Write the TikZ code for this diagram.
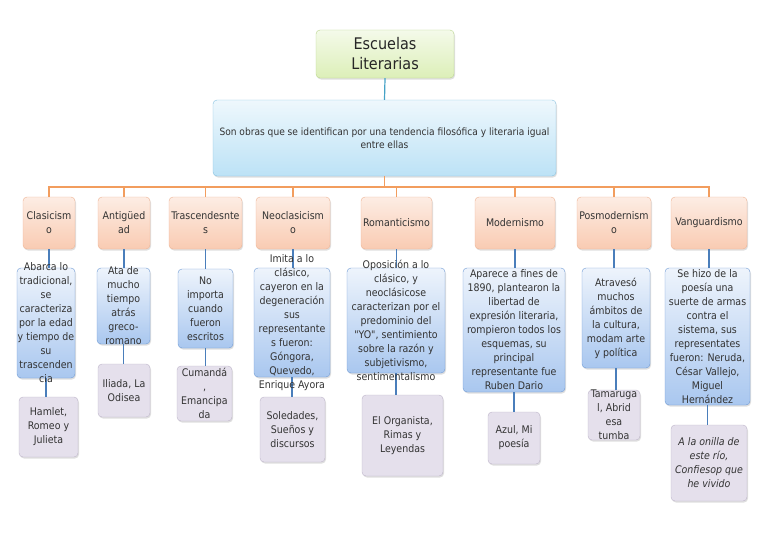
\documentclass[tikz,border=0pt]{standalone}
\usepackage{fontspec}
\newfontfamily\condfont{DejaVu Sans Condensed}
\usetikzlibrary{shadows}

\definecolor{titlecol}{HTML}{DCEFB8}
\definecolor{titleline}{HTML}{B9D58C}
\definecolor{maincol}{HTML}{BCE2F6}
\definecolor{mainline}{HTML}{86C1E0}
\definecolor{catcol}{HTML}{F9CBB2}
\definecolor{catline}{HTML}{EDB394}
\definecolor{desccol}{HTML}{A9C7EF}
\definecolor{descline}{HTML}{6F9AD4}
\definecolor{excol}{HTML}{E5E0EC}
\definecolor{exline}{HTML}{BDB4C9}
\definecolor{busline}{HTML}{F29D5E}
\definecolor{linkline}{HTML}{4A7EBB}
\definecolor{tealline}{HTML}{45A2C6}
\definecolor{txtcol}{HTML}{333333}

\tikzset{
  box/.style={draw, rounded corners=4pt, inner sep=0pt,
    drop shadow={opacity=0.25, shadow xshift=1pt, shadow yshift=-1.5pt}},
  titlebox/.style={box, draw=titleline, top color=titlecol!30, bottom color=titlecol},
  mainbox/.style={box, draw=mainline, top color=maincol!25, bottom color=maincol},
  catbox/.style={box, draw=catline, top color=catcol!35, bottom color=catcol},
  descbox/.style={box, draw=descline, top color=desccol!20, bottom color=desccol},
  exbox/.style={box, draw=exline, fill=excol},
  txt/.style={align=center, text=txtcol, inner sep=0pt,
    font=\condfont\fontsize{10.5}{14}\selectfont},
  bus/.style={busline, line width=1.6pt},
  link/.style={linkline, line width=1.1pt},
}

\begin{document}
\begin{tikzpicture}[x=1pt, y=-1pt]
  \useasboundingbox (0,0) rectangle (768,543);

  % Titulo
  \node[titlebox, minimum width=138pt, minimum height=48pt, align=center,
    font=\condfont\fontsize{16}{20}\selectfont, text=black!85] (title) at (385,54) {Escuelas\\Literarias};
  \node[mainbox, minimum width=343pt, minimum height=76pt] (main) at (384.5,138) {};
  \node[txt, font=\condfont\fontsize{10.1}{13}\selectfont] (maint) at (main)
    {Son obras que se identifican por una tendencia filosófica y literaria igual\\entre ellas};
  \draw[tealline, line width=1.2pt] (title.south) -- (main.north);

  % Escuelas
  \node[catbox, minimum width=52pt, minimum height=52pt, txt] (c1) at (49,223) {Clasicism\\o};
  \node[catbox, minimum width=52pt, minimum height=52pt, txt] (c2) at (124,223) {Antigüed\\ad};
  \node[catbox, minimum width=73pt, minimum height=52pt, txt] (c3) at (205.5,223) {Trascendesnte\\s};
  \node[catbox, minimum width=74pt, minimum height=52pt, txt] (c4) at (293,223) {Neoclasicism\\o};
  \node[catbox, minimum width=71pt, minimum height=52pt, txt] (c5) at (396.5,223) {Romanticismo};
  \node[catbox, minimum width=80pt, minimum height=52pt, txt] (c6) at (515,223) {Modernismo};
  \node[catbox, minimum width=74pt, minimum height=52pt, txt] (c7) at (614,223) {Posmodernism\\o};
  \node[catbox, minimum width=76pt, minimum height=52pt, txt] (c8) at (709,223) {Vanguardismo};

  % Descripciones
  \node[descbox, minimum width=58pt, minimum height=110pt] (d1) at (46,323) {};
  \node[descbox, minimum width=53pt, minimum height=76pt] (d2) at (123.5,306) {};
  \node[descbox, minimum width=55pt, minimum height=79pt] (d3) at (205.5,308.5) {};
  \node[descbox, minimum width=76pt, minimum height=109pt] (d4) at (292,322.5) {};
  \node[descbox, minimum width=98pt, minimum height=105pt] (d5) at (396,320.5) {};
  \node[descbox, minimum width=102pt, minimum height=124pt] (d6) at (514,330) {};
  \node[descbox, minimum width=68pt, minimum height=100pt] (d7) at (616,318) {};
  \node[descbox, minimum width=85pt, minimum height=137pt] (d8) at (707.5,336.5) {};

  % Obras
  \node[exbox, minimum width=59pt, minimum height=60pt, txt] (e1) at (48.5,427) {Hamlet,\\Romeo y\\Julieta};
  \node[exbox, minimum width=52pt, minimum height=53pt, txt] (e2) at (124,390.5) {Iliada, La\\Odisea};
  \node[exbox, minimum width=55pt, minimum height=55pt] (e3) at (204.5,393.5) {};
  \node[exbox, minimum width=65pt, minimum height=65pt, txt] (e4) at (292.5,429.5) {Soledades,\\Sueños y\\discursos};
  \node[exbox, minimum width=81pt, minimum height=81pt, txt] (e5) at (402.5,435.5) {El Organista,\\Rimas y\\Leyendas};
  \node[exbox, minimum width=52pt, minimum height=52pt, txt] (e6) at (514,438) {Azul, Mi\\poesía};
  \node[exbox, minimum width=52pt, minimum height=50pt] (e7) at (614,415) {};
  \node[exbox, minimum width=76pt, minimum height=76pt, txt, font=\condfont\fontsize{10.5}{14}\selectfont\itshape] (e8) at (709,463)
    {A la onilla de\\este río,\\Confiesop que\\he vivido};

  % Conectores
  \foreach \c in {c1,c2,c3,c4,c5,c6,c7,c8}
    \draw[bus] (main.south) -- ++(0,11) -| (\c.north);
  \foreach \i in {1,...,8} {
    \draw[link] (c\i.south) -- (c\i.south |- d\i.north);
    \draw[link] (d\i.south) -- (d\i.south |- e\i.north);
  }

  % Textos (sobre las cajas)
  \node[txt] (d1t) at (d1) {Abarca lo\\tradicional,\\se\\caracteriza\\por la edad\\y tiempo de\\su\\trascenden\\cia};
  \node[txt] (d2t) at (d2) {Ata de\\mucho\\tiempo\\atrás\\greco-\\romano};
  \node[txt] (d3t) at (d3) {No\\importa\\cuando\\fueron\\escritos};
  \node[txt] (d4t) at (d4) {Imita a lo\\clásico,\\cayeron en la\\degeneración\\sus\\representante\\s fueron:\\Góngora,\\Quevedo,\\Enrique Ayora};
  \node[txt] (d5t) at (d5) {Oposición a lo\\clásico, y\\neoclásicose\\caracterizan por el\\predominio del\\"YO", sentimiento\\sobre la razón y\\subjetivismo,\\sentimentalismo};
  \node[txt] (d6t) at (d6) {Aparece a fines de\\1890, plantearon la\\libertad de\\expresión literaria,\\rompieron todos los\\esquemas, su\\principal\\representante fue\\Ruben Dario};
  \node[txt] (d7t) at (d7) {Atravesó\\muchos\\ámbitos de\\la cultura,\\modam arte\\y política};
  \node[txt] (d8t) at (d8) {Se hizo de la\\poesía una\\suerte de armas\\contra el\\sistema, sus\\representates\\fueron: Neruda,\\César Vallejo,\\Miguel\\Hernández};
  \node[txt] (e3t) at (e3) {Cumandá\\,\\Emancipa\\da};
  \node[txt] (e7t) at (e7) {Tamaruga\\l, Abrid\\esa\\tumba};

\end{tikzpicture}
\end{document}
